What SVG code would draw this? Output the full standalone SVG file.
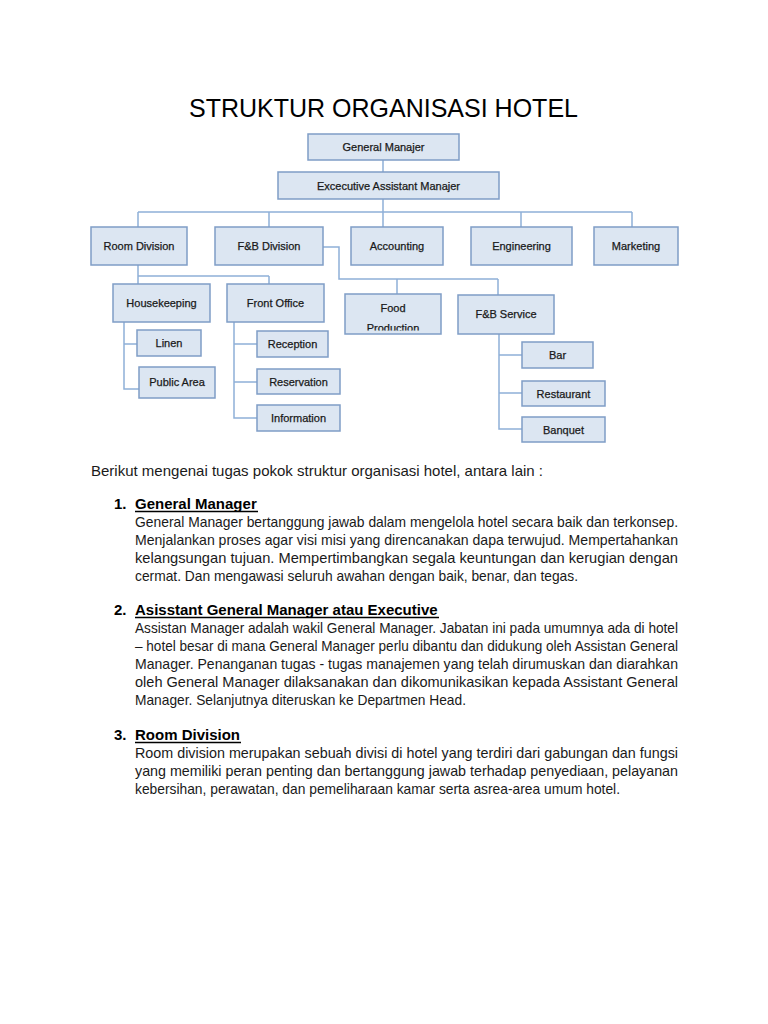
<svg xmlns="http://www.w3.org/2000/svg" width="768" height="1024" viewBox="0 0 768 1024">
<defs>
<style>
.box{fill:#dce6f2;stroke:#7f9dc6;stroke-width:1.5}
.bt{font-family:"Liberation Sans",Arial,sans-serif;font-size:11px;fill:#1a1a1a;stroke:#1a1a1a;stroke-width:0.25;text-anchor:middle}
.con{fill:none;stroke:#8fb0d8;stroke-width:1.5}
.title{font-family:"Liberation Sans",Arial,sans-serif;font-size:25px;fill:#000;text-anchor:middle}
.tx{font-family:"Liberation Sans",Arial,sans-serif;font-size:15px;fill:#1a1a1a}
.hd{font-family:"Liberation Sans",Arial,sans-serif;font-size:15px;font-weight:bold;fill:#000}
.ul{stroke:#000;stroke-width:1.4}
</style>
<clipPath id="fpclip"><rect x="345" y="294" width="96" height="36.5"/></clipPath>
</defs>
<rect width="768" height="1024" fill="#fff"/>
<text class="title" x="383.5" y="117">STRUKTUR ORGANISASI HOTEL</text>

<g id="connectors">
<path class="con" d="M383 160V172M383 199V227M138 212H632M138 212V227M269 212V227M521 212V227M632 212V227"/>
<path class="con" d="M138 265V276H269M138 276V284M269 276V284"/>
<path class="con" d="M323 247H339V279H498M397 279V294M498 279V295"/>
<path class="con" d="M124 322V389H139M124 344H137"/>
<path class="con" d="M234 322V418H257M234 344H257M234 382H257"/>
<path class="con" d="M499 334V429H522M499 355H522M499 393H522"/>
</g>

<g id="general-manajer"><rect class="box" x="308" y="134" width="151" height="26"/><text class="bt" x="383.5" y="151">General Manajer</text></g>
<g id="executive-assistant"><rect class="box" x="278" y="172" width="221" height="27"/><text class="bt" x="388.5" y="189.5">Excecutive Assistant Manajer</text></g>
<g id="room-division"><rect class="box" x="91" y="227" width="96" height="38"/><text class="bt" x="139" y="250">Room Division</text></g>
<g id="fb-division"><rect class="box" x="215" y="227" width="108" height="38"/><text class="bt" x="269" y="250">F&amp;B Division</text></g>
<g id="accounting"><rect class="box" x="351" y="227" width="92" height="38"/><text class="bt" x="397" y="250">Accounting</text></g>
<g id="engineering"><rect class="box" x="471" y="227" width="101" height="38"/><text class="bt" x="521.5" y="250">Engineering</text></g>
<g id="marketing"><rect class="box" x="594" y="227" width="84" height="38"/><text class="bt" x="636" y="250">Marketing</text></g>
<g id="housekeeping"><rect class="box" x="113" y="284" width="97" height="38"/><text class="bt" x="161.5" y="307">Housekeeping</text></g>
<g id="front-office"><rect class="box" x="227" y="284" width="97" height="38"/><text class="bt" x="275.5" y="307">Front Office</text></g>
<g id="linen"><rect class="box" x="137" y="330" width="64" height="26"/><text class="bt" x="169" y="347">Linen</text></g>
<g id="public-area"><rect class="box" x="139" y="367" width="76" height="31"/><text class="bt" x="177" y="386">Public Area</text></g>
<g id="reception"><rect class="box" x="257" y="331" width="71" height="26"/><text class="bt" x="292.5" y="348">Reception</text></g>
<g id="reservation"><rect class="box" x="257" y="369" width="83" height="25"/><text class="bt" x="298.5" y="385.5">Reservation</text></g>
<g id="information"><rect class="box" x="257" y="405" width="83" height="26"/><text class="bt" x="298.5" y="422">Information</text></g>
<g id="food-production"><rect class="box" x="345" y="294" width="96" height="40"/><text class="bt" x="393" y="312">Food</text><text class="bt" x="393" y="332" clip-path="url(#fpclip)">Production</text></g>
<g id="fb-service"><rect class="box" x="458" y="295" width="96" height="39"/><text class="bt" x="506" y="318">F&amp;B Service</text></g>
<g id="bar"><rect class="box" x="522" y="342" width="71" height="26"/><text class="bt" x="557.5" y="359">Bar</text></g>
<g id="restaurant"><rect class="box" x="522" y="381" width="83" height="25"/><text class="bt" x="563.5" y="397.5">Restaurant</text></g>
<g id="banquet"><rect class="box" x="522" y="417" width="83" height="25"/><text class="bt" x="563.5" y="433.5">Banquet</text></g>

<g id="body-text">
<text class="tx" x="91" y="476" textLength="452" lengthAdjust="spacingAndGlyphs">Berikut mengenai tugas pokok struktur organisasi hotel, antara lain :</text>

<text class="hd" x="114" y="509">1.</text>
<text class="hd" x="135" y="509">General Manager</text>
<line class="ul" x1="135" y1="511.5" x2="258" y2="511.5"/>
<text class="tx" x="135" y="527" textLength="543" lengthAdjust="spacingAndGlyphs">General Manager bertanggung jawab dalam mengelola hotel secara baik dan terkonsep.</text>
<text class="tx" x="135" y="545" textLength="543" lengthAdjust="spacingAndGlyphs">Menjalankan proses agar visi misi yang direncanakan dapa terwujud. Mempertahankan</text>
<text class="tx" x="135" y="563" textLength="543" lengthAdjust="spacingAndGlyphs">kelangsungan tujuan. Mempertimbangkan segala keuntungan dan kerugian dengan</text>
<text class="tx" x="135" y="581" textLength="443" lengthAdjust="spacingAndGlyphs">cermat. Dan mengawasi seluruh awahan dengan baik, benar, dan tegas.</text>

<text class="hd" x="114" y="615">2.</text>
<text class="hd" x="135" y="615">Asisstant General Manager atau Executive</text>
<line class="ul" x1="135" y1="617.5" x2="439" y2="617.5"/>
<text class="tx" x="135" y="633" textLength="543" lengthAdjust="spacingAndGlyphs">Assistan Manager adalah wakil General Manager. Jabatan ini pada umumnya ada di hotel</text>
<text class="tx" x="135" y="651" textLength="543" lengthAdjust="spacingAndGlyphs">– hotel besar di mana General Manager perlu dibantu dan didukung oleh Assistan General</text>
<text class="tx" x="135" y="669" textLength="543" lengthAdjust="spacingAndGlyphs">Manager. Penanganan tugas - tugas manajemen yang telah dirumuskan dan diarahkan</text>
<text class="tx" x="135" y="687" textLength="543" lengthAdjust="spacingAndGlyphs">oleh General Manager dilaksanakan dan dikomunikasikan kepada Assistant General</text>
<text class="tx" x="135" y="705" textLength="331" lengthAdjust="spacingAndGlyphs">Manager. Selanjutnya diteruskan ke Departmen Head.</text>

<text class="hd" x="114" y="740">3.</text>
<text class="hd" x="135" y="740">Room Division</text>
<line class="ul" x1="135" y1="742.5" x2="241" y2="742.5"/>
<text class="tx" x="135" y="758" textLength="543" lengthAdjust="spacingAndGlyphs">Room division merupakan sebuah divisi di hotel yang terdiri dari gabungan dan fungsi</text>
<text class="tx" x="135" y="776" textLength="543" lengthAdjust="spacingAndGlyphs">yang memiliki peran penting dan bertanggung jawab terhadap penyediaan, pelayanan</text>
<text class="tx" x="135" y="794" textLength="485" lengthAdjust="spacingAndGlyphs">kebersihan, perawatan, dan pemeliharaan kamar serta asrea-area umum hotel.</text>
</g>
</svg>
